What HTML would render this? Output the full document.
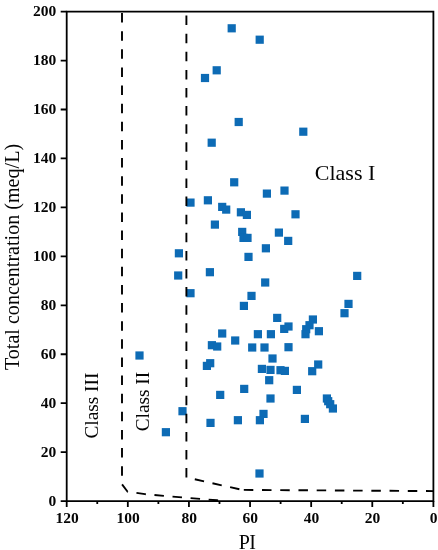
<!DOCTYPE html>
<html lang="en"><head><meta charset="utf-8"><title>PI vs Total concentration</title>
<style>
html,body{margin:0;padding:0;background:#fff;}
body{width:438px;height:550px;overflow:hidden;}
svg{display:block;}
text{font-family:"Liberation Serif","Times New Roman",serif;fill:#050505;}
.tk{font-weight:bold;font-size:15.5px;}
.ttl{font-size:20.5px;}
</style></head><body>
<svg width="438" height="550" viewBox="0 0 438 550">
<rect width="438" height="550" fill="#fff"/>

<g fill="#0d6bb5">
<rect x="227.6" y="24.2" width="8.2" height="8.2"/>
<rect x="255.6" y="35.6" width="8.2" height="8.2"/>
<rect x="212.6" y="66.2" width="8.2" height="8.2"/>
<rect x="200.9" y="73.9" width="8.2" height="8.2"/>
<rect x="234.6" y="117.9" width="8.2" height="8.2"/>
<rect x="207.6" y="138.6" width="8.2" height="8.2"/>
<rect x="230.1" y="178.2" width="8.2" height="8.2"/>
<rect x="299.2" y="127.6" width="8.2" height="8.2"/>
<rect x="262.8" y="189.5" width="8.2" height="8.2"/>
<rect x="186.4" y="198.5" width="8.2" height="8.2"/>
<rect x="203.8" y="196.2" width="8.2" height="8.2"/>
<rect x="218.1" y="202.8" width="8.2" height="8.2"/>
<rect x="222.1" y="205.5" width="8.2" height="8.2"/>
<rect x="236.8" y="208.2" width="8.2" height="8.2"/>
<rect x="242.8" y="210.8" width="8.2" height="8.2"/>
<rect x="210.8" y="220.5" width="8.2" height="8.2"/>
<rect x="238.1" y="227.8" width="8.2" height="8.2"/>
<rect x="239.4" y="233.8" width="8.2" height="8.2"/>
<rect x="243.4" y="233.8" width="8.2" height="8.2"/>
<rect x="261.8" y="244.2" width="8.2" height="8.2"/>
<rect x="174.8" y="249.2" width="8.2" height="8.2"/>
<rect x="244.4" y="252.8" width="8.2" height="8.2"/>
<rect x="205.8" y="268.1" width="8.2" height="8.2"/>
<rect x="174.1" y="271.4" width="8.2" height="8.2"/>
<rect x="261.1" y="278.4" width="8.2" height="8.2"/>
<rect x="186.4" y="289.1" width="8.2" height="8.2"/>
<rect x="247.4" y="291.8" width="8.2" height="8.2"/>
<rect x="239.8" y="301.8" width="8.2" height="8.2"/>
<rect x="218.1" y="329.4" width="8.2" height="8.2"/>
<rect x="253.8" y="330.1" width="8.2" height="8.2"/>
<rect x="266.8" y="330.1" width="8.2" height="8.2"/>
<rect x="231.1" y="336.4" width="8.2" height="8.2"/>
<rect x="207.8" y="341.1" width="8.2" height="8.2"/>
<rect x="213.1" y="342.4" width="8.2" height="8.2"/>
<rect x="248.1" y="343.4" width="8.2" height="8.2"/>
<rect x="260.4" y="343.4" width="8.2" height="8.2"/>
<rect x="135.4" y="351.4" width="8.2" height="8.2"/>
<rect x="268.4" y="354.4" width="8.2" height="8.2"/>
<rect x="280.4" y="186.5" width="8.2" height="8.2"/>
<rect x="291.4" y="210.2" width="8.2" height="8.2"/>
<rect x="274.8" y="228.5" width="8.2" height="8.2"/>
<rect x="284.1" y="236.8" width="8.2" height="8.2"/>
<rect x="353.1" y="271.8" width="8.2" height="8.2"/>
<rect x="344.4" y="299.8" width="8.2" height="8.2"/>
<rect x="340.4" y="309.1" width="8.2" height="8.2"/>
<rect x="273.1" y="313.8" width="8.2" height="8.2"/>
<rect x="308.8" y="315.4" width="8.2" height="8.2"/>
<rect x="284.4" y="322.4" width="8.2" height="8.2"/>
<rect x="280.1" y="324.8" width="8.2" height="8.2"/>
<rect x="305.4" y="321.1" width="8.2" height="8.2"/>
<rect x="302.1" y="325.1" width="8.2" height="8.2"/>
<rect x="301.4" y="330.1" width="8.2" height="8.2"/>
<rect x="314.8" y="327.1" width="8.2" height="8.2"/>
<rect x="284.4" y="343.1" width="8.2" height="8.2"/>
<rect x="314.1" y="360.4" width="8.2" height="8.2"/>
<rect x="206.1" y="359.1" width="8.2" height="8.2"/>
<rect x="202.8" y="361.8" width="8.2" height="8.2"/>
<rect x="257.8" y="364.8" width="8.2" height="8.2"/>
<rect x="266.4" y="365.8" width="8.2" height="8.2"/>
<rect x="265.1" y="376.1" width="8.2" height="8.2"/>
<rect x="240.1" y="384.8" width="8.2" height="8.2"/>
<rect x="216.1" y="390.8" width="8.2" height="8.2"/>
<rect x="266.4" y="394.4" width="8.2" height="8.2"/>
<rect x="178.4" y="407.1" width="8.2" height="8.2"/>
<rect x="259.4" y="409.8" width="8.2" height="8.2"/>
<rect x="255.8" y="416.1" width="8.2" height="8.2"/>
<rect x="233.8" y="416.1" width="8.2" height="8.2"/>
<rect x="206.4" y="418.8" width="8.2" height="8.2"/>
<rect x="161.8" y="428.1" width="8.2" height="8.2"/>
<rect x="255.4" y="469.4" width="8.2" height="8.2"/>
<rect x="276.4" y="366.1" width="8.2" height="8.2"/>
<rect x="280.8" y="366.8" width="8.2" height="8.2"/>
<rect x="308.1" y="367.1" width="8.2" height="8.2"/>
<rect x="292.8" y="385.8" width="8.2" height="8.2"/>
<rect x="322.8" y="394.4" width="8.2" height="8.2"/>
<rect x="324.1" y="397.1" width="8.2" height="8.2"/>
<rect x="326.1" y="400.1" width="8.2" height="8.2"/>
<rect x="328.8" y="404.4" width="8.2" height="8.2"/>
<rect x="300.8" y="414.8" width="8.2" height="8.2"/>
</g>
<g fill="none" stroke="#000" stroke-width="1.9" stroke-dasharray="9.5 8.63">
<path d="M122 13 V484.3 L127.6 491.7 L145 494.1 L172 496.6 L217 500.3 L222 500.7"/>
<path d="M186.4 15.6 V477.4" stroke-dasharray="9.5 8.6"/>
<path d="M186.4 477.4 L240 489.4" stroke-dashoffset="-8.6" stroke-dasharray="9.5 8.6"/>
<path d="M243.8 489.9 L433.5 491.1" stroke-dasharray="9.5 8.72"/>
</g>
<g fill="none" stroke="#000" stroke-width="1.8">
<path d="M66.7 11.6 H433.4 V501.1 H66.7 Z"/>
<path d="M66.7 501.10 h-6 M66.7 452.15 h-6 M66.7 403.20 h-6 M66.7 354.25 h-6 M66.7 305.30 h-6 M66.7 256.35 h-6 M66.7 207.40 h-6 M66.7 158.45 h-6 M66.7 109.50 h-6 M66.7 60.55 h-6 M66.7 11.60 h-6 M433.40 501.1 v6 M372.28 501.1 v6 M311.17 501.1 v6 M250.05 501.1 v6 M188.93 501.1 v6 M127.82 501.1 v6 M66.70 501.1 v6 M402.84 501.1 v3 M341.72 501.1 v3 M280.61 501.1 v3 M219.49 501.1 v3 M158.38 501.1 v3 M97.26 501.1 v3 "/>
</g>
<g class="tk" text-anchor="end">
<text x="56.3" y="505.8">0</text>
<text x="56.3" y="456.9">20</text>
<text x="56.3" y="407.9">40</text>
<text x="56.3" y="358.9">60</text>
<text x="56.3" y="310.0">80</text>
<text x="56.3" y="261.1">100</text>
<text x="56.3" y="212.1">120</text>
<text x="56.3" y="163.2">140</text>
<text x="56.3" y="114.2">160</text>
<text x="56.3" y="65.3">180</text>
<text x="56.3" y="16.3">200</text>
</g>
<g class="tk" text-anchor="middle">
<text x="433.7" y="523.3">0</text>
<text x="372.6" y="523.3">20</text>
<text x="311.5" y="523.3">40</text>
<text x="250.3" y="523.3">60</text>
<text x="189.2" y="523.3">80</text>
<text x="128.1" y="523.3">100</text>
<text x="67.0" y="523.3">120</text>
</g>
<text style="font-size:20px;letter-spacing:-0.7px" x="246.9" y="548.7" text-anchor="middle">PI</text>
<text style="font-size:20.1px" transform="translate(18.9 257) rotate(-90)" text-anchor="middle">Total concentration (meq/L)</text>
<text style="font-size:22px" x="314.8" y="180.1">Class I</text>
<text style="font-size:19.5px" transform="translate(149.2 431.3) rotate(-90)" textLength="59.5" lengthAdjust="spacingAndGlyphs">Class II</text>
<text style="font-size:19.5px" transform="translate(98.4 438.6) rotate(-90)" textLength="66" lengthAdjust="spacingAndGlyphs">Class III</text>
</svg></body></html>
